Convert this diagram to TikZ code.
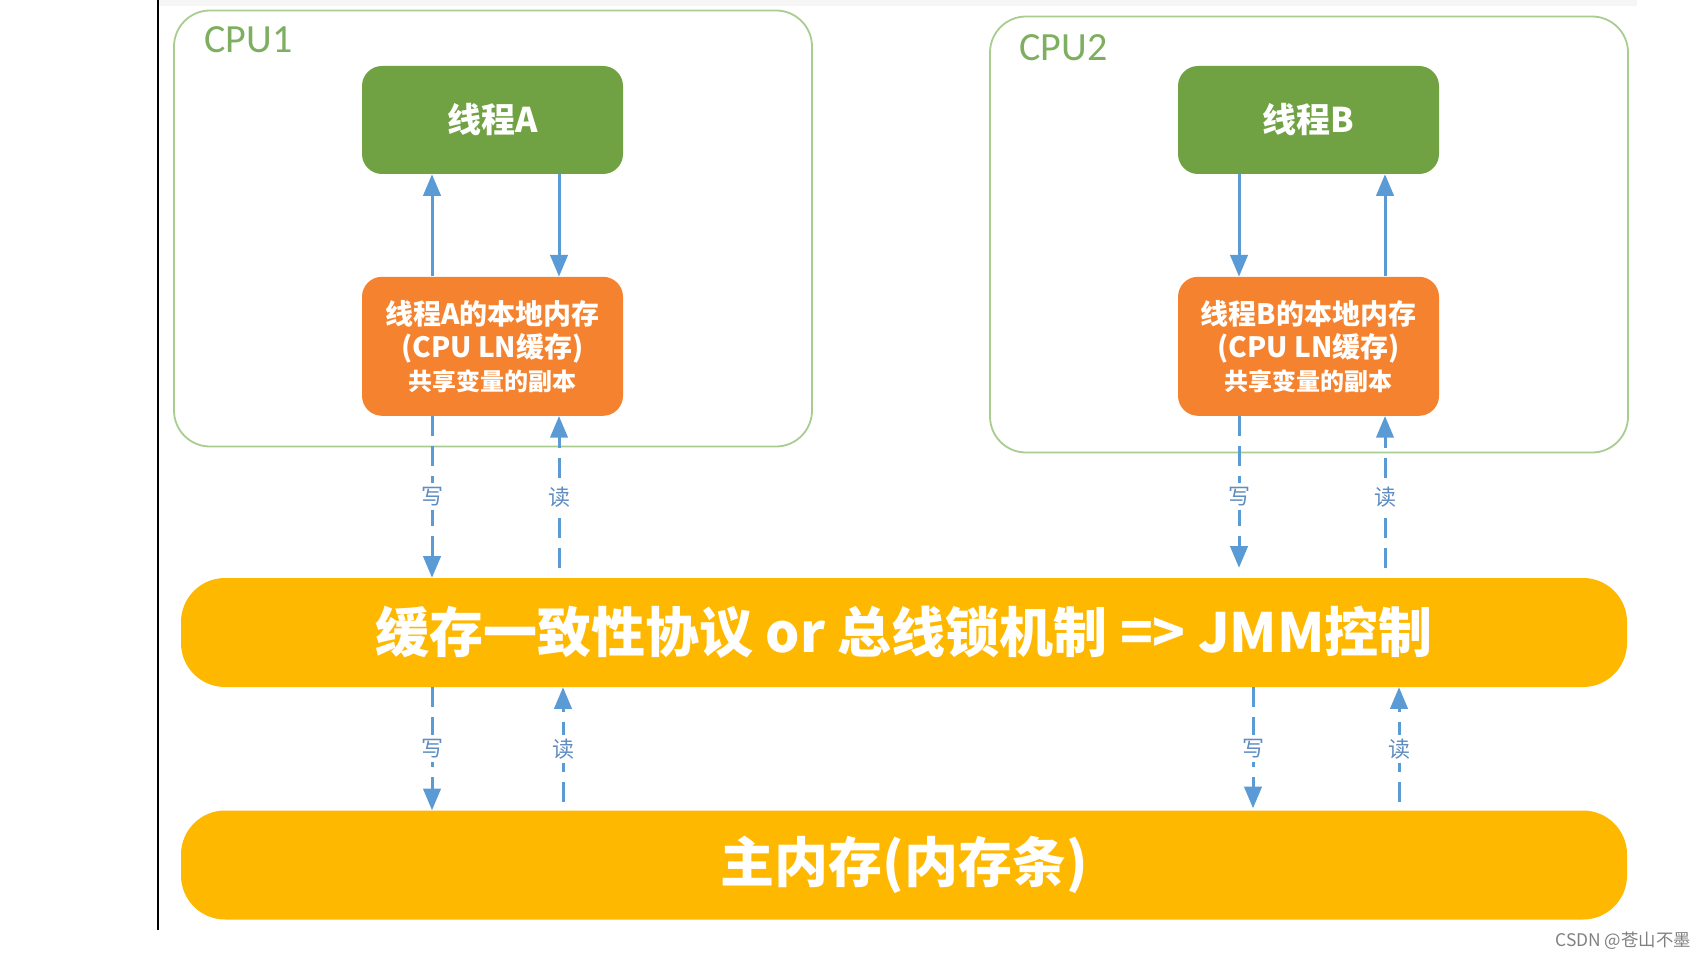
\documentclass[tikz,border=0pt]{standalone}
\usepackage{fontspec}
\newfontfamily\cjk{Noto Sans CJK SC}
\newfontfamily\cpufont{Carlito}
\usepackage{xcolor}
\usepackage{tikz}
\usetikzlibrary{arrows,positioning,calc}

\definecolor{thgreen}{HTML}{70A244}
\definecolor{cacheorange}{HTML}{F4822E}
\definecolor{busyellow}{HTML}{FFB800}
\definecolor{arrowblue}{HTML}{5B9BD5}
\definecolor{cpuline}{HTML}{A9CC90}
\definecolor{cputext}{HTML}{7EAE60}
\definecolor{rwblue}{HTML}{5F8DC2}

\tikzset{
    cpubox/.style={draw=cpuline, line width=0.9pt, rounded corners=18pt, minimum width=319pt, minimum height=218pt},
    cpulabel/.style={anchor=base west, inner sep=0pt, text=cputext, font=\cpufont\fontsize{20}{22}\selectfont},
    threadbox/.style={fill=thgreen, rounded corners=10pt, minimum width=130.5pt, minimum height=54pt, text=white, font=\cjk\bfseries\fontsize{17}{20}\selectfont},
    cachebox/.style={fill=cacheorange, rounded corners=10pt, minimum width=130.5pt, minimum height=69.5pt, text=white, align=center, font=\cjk\bfseries\fontsize{14}{16.5}\selectfont},
    bandbox/.style={fill=busyellow, rounded corners=22pt, minimum width=723pt, minimum height=54.5pt, text=white, font=\cjk\bfseries\fontsize{27}{30}\selectfont},
    solidarrow/.style={draw=arrowblue, line width=1.5pt, -triangle 45},
    dasharrow/.style={solidarrow, dash pattern=on 10pt off 5pt},
    rwlabel/.style={fill=white, text=rwblue, inner sep=2pt, font=\cjk\fontsize{11}{12}\selectfont},
}

\begin{document}
\begin{tikzpicture}[x=0.5pt, y=-0.5pt]
    \useasboundingbox (0,0) rectangle (1706,957);

    % screenshot frame
    \fill[fill=gray!7] (158,0) rectangle (1637,6);
    \draw[line width=1pt] (158,0) -- (158,930);

    % the two cpus
    \node[cpubox] (cpu1) at (493,228.5) {};
    \node[cpubox] (cpu2) at (1309,234.5) {};
    \node[cpulabel] (cpu1name) at (204,53) {CPU1};
    \node[cpulabel] (cpu2name) at (1019,61) {CPU2};

    \node[threadbox] (thA) at (492.5,120) {线程A};
    \node[cachebox, below=51pt of thA] (cacheA) {线程A的本地内存\\(CPU LN缓存)\\{\fontsize{12}{14}\selectfont 共享变量的副本}};
    \node[threadbox] (thB) at (1308.5,120) {线程B};
    \node[cachebox, below=51pt of thB] (cacheB) {线程B的本地内存\\(CPU LN缓存)\\{\fontsize{12}{14}\selectfont 共享变量的副本}};

    % bus and main memory
    \node[bandbox] (bus) at (904,632.5) {缓存一致性协议 or 总线锁机制 => JMM控制};
    \node[bandbox] (mem) at (904,865) {主内存(内存条)};

    % arrow columns
    \coordinate (aw1) at (432,0);
    \coordinate (ar1) at (559,0);
    \coordinate (aw2) at (432,0);
    \coordinate (ar2) at (563,0);
    \coordinate (bw1) at (1239,0);
    \coordinate (br1) at (1385,0);
    \coordinate (bw2) at (1253,0);
    \coordinate (br2) at (1399,0);

    % thread <-> local memory
    \draw[solidarrow] (cacheA.north -| aw1) -- (thA.south -| aw1);
    \draw[solidarrow] (thA.south -| ar1) -- (cacheA.north -| ar1);
    \draw[solidarrow] (thB.south -| bw1) -- (cacheB.north -| bw1);
    \draw[solidarrow] (cacheB.north -| br1) -- (thB.south -| br1);

    % local memory <-> bus
    \draw[dasharrow] (cacheA.south -| aw1) -- (bus.north -| aw1) node[rwlabel, pos=0.5] (wA1) {写};
    \draw[dasharrow, shorten <=5pt] (bus.north -| ar1) -- (cacheA.south -| ar1) node[rwlabel, pos=0.5] (rA1) {读};
    \draw[dasharrow, shorten >=5pt] (cacheB.south -| bw1) -- (bus.north -| bw1) node[rwlabel, pos=0.5] (wB1) {写};
    \draw[dasharrow, shorten <=5pt] (bus.north -| br1) -- (cacheB.south -| br1) node[rwlabel, pos=0.5] (rB1) {读};

    % bus <-> main memory
    \draw[dasharrow] (bus.south -| aw2) -- (mem.north -| aw2) node[rwlabel, pos=0.5] (wA2) {写};
    \draw[dasharrow, shorten <=4pt] (mem.north -| ar2) -- (bus.south -| ar2) node[rwlabel, pos=0.5] (rA2) {读};
    \draw[dasharrow, shorten >=1pt] (bus.south -| bw2) -- (mem.north -| bw2) node[rwlabel, pos=0.5] (wB2) {写};
    \draw[dasharrow, shorten <=4pt] (mem.north -| br2) -- (bus.south -| br2) node[rwlabel, pos=0.5] (rB2) {读};

    \node[anchor=base east, text=gray, font=\cjk\fontsize{8.7}{10}\selectfont] (mark) at (1698,946) {CSDN @苍山不墨};
\end{tikzpicture}
\end{document}
